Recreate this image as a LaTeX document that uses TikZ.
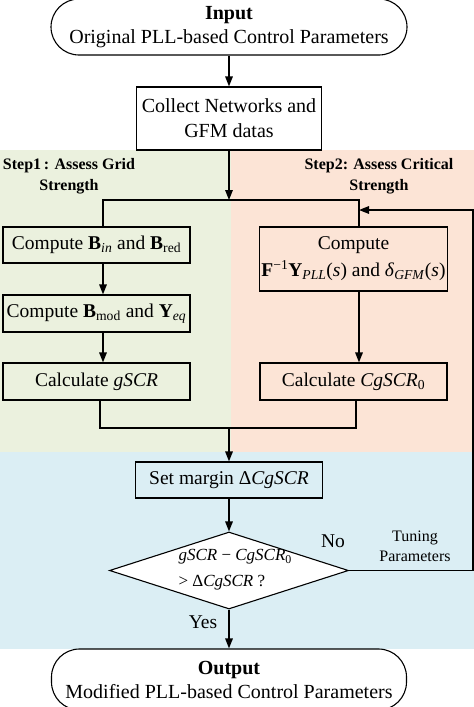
\documentclass[tikz,border=0pt]{standalone}
\usepackage{fontspec}
\setmainfont{Liberation Serif}
\usepackage{xcolor}
\usepackage{tikz}
\usetikzlibrary{arrows.meta}
\usetikzlibrary{shapes.geometric}
\definecolor{gridgreen}{RGB}{235,241,222}
\definecolor{critorange}{RGB}{252,228,214}
\definecolor{marginblue}{RGB}{219,238,244}
\tikzset{
  box/.style={draw, line width=1.1pt, minimum width=187pt, inner sep=2pt, align=center, font=\fontsize{19.5}{27}\selectfont},
  term/.style={draw, line width=1.1pt, fill=white, rounded corners=28pt, align=center, font=\fontsize{20}{24}\selectfont},
  link/.style={line width=1.5pt},
}
\begin{document}
\begin{tikzpicture}[x=1pt, y=-1pt, >={Triangle[length=10pt,width=7.5pt]}]
    \useasboundingbox (0,0) rectangle (474,707);
    \clip (0,0) rectangle (474,707);
    \fill[gridgreen] (0,150) rectangle (231,452);
    \fill[critorange] (231,150) rectangle (474,452);
    \fill[marginblue] (0,452) rectangle (474,649);

    \node[term, minimum width=356pt, minimum height=56pt] (in) at (229,27) {\textbf{Input}\\Original PLL-based Control Parameters};
    \node[box, fill=white, minimum width=185pt, minimum height=63pt, font=\fontsize{20}{25}\selectfont] (col) at (229,118.5) {Collect Networks and\\GFM datas};

    \node[align=center, font=\bfseries\fontsize{16}{21}\selectfont] (s1) at (69,176) {Step1\,: Assess Grid\\Strength};
    \node[align=center, font=\bfseries\fontsize{16}{21}\selectfont] (s2) at (379,176) {Step2: Assess Critical\\Strength};

    \node[box, fill=gridgreen, minimum height=36pt] (cb1) at (96.5,245) {Compute \textbf{B}\textsubscript{\textit{in}} and \textbf{B}\textsubscript{red}};
    \node[box, fill=gridgreen, minimum height=37pt] (cb2) at (96.5,313.5) {Compute \textbf{B}\textsubscript{mod} and \textbf{Y}\textsubscript{\textit{eq}}};
    \node[box, fill=gridgreen, minimum height=37pt] (cb3) at (96.5,381.5) {Calculate \textit{gSCR}};
    \node[box, fill=critorange, minimum height=64pt] (cf1) at (353.5,259) {Compute\\\textbf{F}\textsuperscript{−1}\textbf{Y}\textsubscript{\textit{PLL}}(\textit{s}) and \textit{δ}\textsubscript{\textit{GFM}}(\textit{s})};
    \node[box, fill=critorange, minimum height=37pt] (cf2) at (353.5,381.5) {Calculate \textit{CgSCR}\textsubscript{0}};

    \node[box, fill=marginblue, minimum height=36pt] (sm) at (229,480) {Set margin Δ\textit{CgSCR}};
    \node[draw, diamond, line width=1.1pt, fill=white, inner sep=0pt, minimum width=239pt, minimum height=77pt] (dec) at (229,570.5) {};
    \node[anchor=west, align=left, font=\fontsize{17}{26}\selectfont] (dtx) at (175,570) {\textit{gSCR} − \textit{CgSCR}\textsubscript{0}\\> Δ\textit{CgSCR} ?};
    \node[font=\fontsize{19.5}{24}\selectfont] (no) at (333,541) {No};
    \node[align=center, font=\fontsize{16}{20}\selectfont] (tun) at (415,546) {Tuning\\Parameters};
    \node[font=\fontsize{19.5}{24}\selectfont] (yes) at (203,622) {Yes};
    \node[term, minimum width=355pt, minimum height=61pt] (out) at (229,679.5) {\textbf{Output}\\Modified PLL-based Control Parameters};

    \coordinate (sp) at (229,200);
    \coordinate (mg) at (229,428);
    \coordinate (fb) at (359,210);
    \coordinate (rt) at (473,210);
    \draw[link, ->] (in) -- (col);
    \draw[link, ->] (col) -- (sp);
    \draw[link] ([xshift=6.5pt]cb1.north) |- (sp) -| ([xshift=5.5pt]cf1.north);
    \foreach \a/\b in {cb1/cb2, cb2/cb3}
    \draw[link, ->] ([xshift=6.5pt]\a.south) -- ([xshift=6.5pt]\b.north);
    \draw[link, ->] ([xshift=5.5pt]cf1.south) -- ([xshift=5.5pt]cf2.north);
    \draw[link] ([xshift=3.5pt]cb3.south) |- (mg) -| ([xshift=2.5pt]cf2.south);
    \draw[link, ->] (mg) -- (sm);
    \draw[link, ->] (sm) -- (dec);
    \draw[link, ->] (dec) -- (out);
    \draw[link, ->] (dec.east) -| (rt) -- (fb);
\end{tikzpicture}
\end{document}
